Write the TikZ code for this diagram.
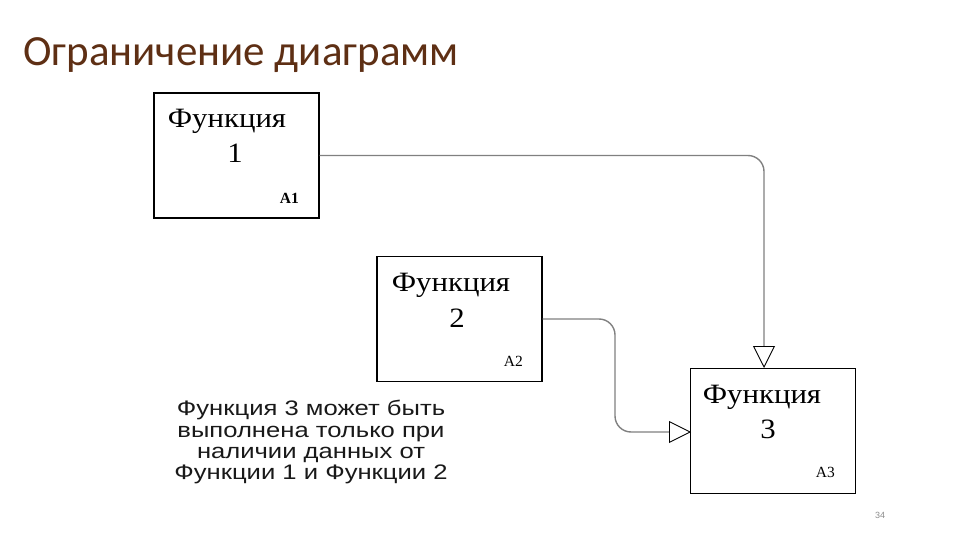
\documentclass[tikz,border=0pt]{standalone}
\usepackage{fontspec}
\setmainfont{Liberation Serif}
\newfontfamily\titlefont{Carlito}
\newfontfamily\notefont{Liberation Sans}
\usetikzlibrary{arrows.meta,calc}
\definecolor{ctitle}{HTML}{5E2F14}
\definecolor{cline}{HTML}{808080}
\tikzset{
  every picture/.style={x=1pt, y=-1pt},
  fbox/.style={draw=black, line width=1.3pt, minimum width=165pt, minimum height=125pt, inner sep=0pt},
  fname/.style={anchor=base, xscale=1.1, font=\fontsize{28}{30}\selectfont, inner sep=0pt},
  fcode/.style={anchor=base east, font=\fontsize{15.5}{16}\selectfont, inner sep=0pt},
  conn/.style={draw=cline, line width=1.4pt, rounded corners=16pt,
    -{Triangle[open, length=22pt, width=22pt, line width=0.9pt, color=black]}},
}
\begin{document}
\begin{tikzpicture}
  \path[use as bounding box] (0,0) rectangle (960,540);
  \node[anchor=base west, inner sep=0pt, text=ctitle, font=\titlefont\fontsize{43}{45}\selectfont] (title) at (23,66) {Ограничение диаграмм};

  % function boxes
  \node[fbox] (f1) at (236.5,155.5) {};
  \node[fbox] (f2) at (459.5,319) {};
  \node[fbox] (f3) at (773,431) {};

  \node[fname] (n1) at (227,128) {Функция};
  \node[fname] (d1) at (235,163) {1};
  \node[fcode] (a1) at (299,204) {\bfseries A1};
  \node[fname] (n2) at (451,291) {Функция};
  \node[fname] (d2) at (457,327) {2};
  \node[fcode] (a2) at (523,366) {A2};
  \node[fname] (n3) at (762,403) {Функция};
  \node[fname] (d3) at (768,438) {3};
  \node[fcode] (a3) at (835,477) {A3};

  % arrows into function 3
  \coordinate (t3) at (764,368);
  \coordinate (l3) at (691,432);
  \draw[conn] (f1.east) -| (t3);
  \draw[conn] (f2.east) -- (615,319) -- (615,432) -- (l3);

  \node[align=center, inner sep=0pt, anchor=north, xscale=1.22, font=\notefont\fontsize{21}{21.4}\selectfont, text=black!90] (note) at (311,400)
    {Функция 3 может быть\\выполнена только при\\наличии данных от\\Функции 1 и Функции 2};

  \node[anchor=base, inner sep=0pt, text=black!45, font=\notefont\fontsize{9}{10}\selectfont] (page) at (880,518) {34};
\end{tikzpicture}
\end{document}
